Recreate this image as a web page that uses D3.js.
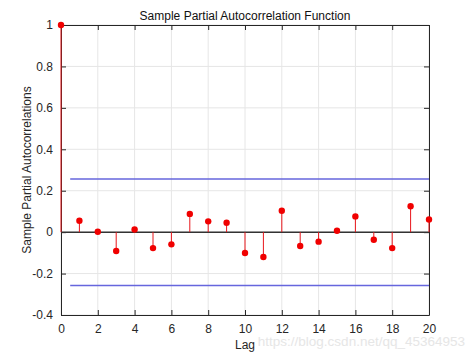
<!DOCTYPE html>
<html><head><meta charset="utf-8">
<script src="https://d3js.org/d3.v7.min.js"></script>
<style>body{margin:0;background:#fff}svg{display:block}</style>
</head><body>
<svg id="c" width="474" height="355"></svg>
<script>
const lags = d3.range(0, 21);
const pacf = [1, 0.055, 0.002, -0.091, 0.013, -0.077, -0.059, 0.088, 0.052, 0.045, -0.101,
  -0.120, 0.103, -0.067, -0.046, 0.007, 0.076, -0.037, -0.077, 0.125, 0.061];
const bound = 0.257;
const xTicks = [0,2,4,6,8,10,12,14,16,18,20];
const yTicks = [-0.4,-0.2,0,0.2,0.4,0.6,0.8,1];
const yTickLabels = ["-0.4","-0.2","0","0.2","0.4","0.6","0.8","1"];

const svg = d3.select("#c");
const L=61, R=429, T=25, B=315;
const x = d3.scaleLinear().domain([0,20]).range([L,R]);
const y = d3.scaleLinear().domain([-0.4,1]).range([B,T]);
const font = "'Liberation Sans', Arial, Helvetica, sans-serif";
const axCol = "#262626";

// grid
svg.append("g").selectAll("line").data(xTicks).join("line")
  .attr("x1",d=>x(d)).attr("x2",d=>x(d)).attr("y1",T).attr("y2",B)
  .attr("stroke","#e6e6e6").attr("stroke-width",1);
svg.append("g").selectAll("line").data(yTicks).join("line")
  .attr("y1",d=>y(d)).attr("y2",d=>y(d)).attr("x1",L).attr("x2",R)
  .attr("stroke","#e6e6e6").attr("stroke-width",1);

// axes with inward ticks
const gx = svg.append("g").attr("transform",`translate(0,${B})`)
  .call(d3.axisBottom(x).tickValues(xTicks).tickSizeInner(-5).tickSizeOuter(0).tickPadding(9));
const gxt = svg.append("g").attr("transform",`translate(0,${T})`)
  .call(d3.axisTop(x).tickValues(xTicks).tickSizeInner(-5).tickSizeOuter(0).tickFormat(""));
const gy = svg.append("g").attr("transform",`translate(${L},0)`)
  .call(d3.axisLeft(y).tickValues(yTicks).tickSizeInner(-5).tickSizeOuter(0).tickPadding(8)
    .tickFormat((d,i)=>yTickLabels[i]));
const gyr = svg.append("g").attr("transform",`translate(${R},0)`)
  .call(d3.axisRight(y).tickValues(yTicks).tickSizeInner(-5).tickSizeOuter(0).tickFormat(""));
[gx,gxt,gy,gyr].forEach(g=>{
  g.selectAll("path,line").attr("stroke",axCol).attr("stroke-width",1);
  g.selectAll("text").attr("fill",axCol).style("font-family",font).style("font-size","12px");
});

// zero line
svg.append("line").attr("x1",L).attr("x2",R).attr("y1",y(0)).attr("y2",y(0))
  .attr("stroke","#333").attr("stroke-width",1.5);

// bounds
svg.append("g").selectAll("line").data([bound,-bound]).join("line")
  .attr("x1",x(0.5)).attr("x2",x(20)).attr("y1",d=>y(d)).attr("y2",d=>y(d))
  .attr("stroke","#6666dd").attr("stroke-width",1.5);

// stems
svg.append("g").selectAll("line").data(lags).join("line")
  .attr("x1",d=>x(d)).attr("x2",d=>x(d)).attr("y1",y(0)).attr("y2",d=>y(pacf[d]))
  .attr("stroke","#e8161b").attr("stroke-width",1);
svg.append("g").selectAll("circle").data(lags).join("circle")
  .attr("cx",d=>x(d)).attr("cy",d=>y(pacf[d])).attr("r",3.2)
  .attr("fill","#f00000");

// title and labels
svg.append("text").attr("x",(L+R)/2).attr("y",20).attr("text-anchor","middle")
  .style("font-family",font).style("font-size","12px").attr("fill","#111")
  .text("Sample Partial Autocorrelation Function");
svg.append("text").attr("x",(L+R)/2).attr("y",349).attr("text-anchor","middle")
  .style("font-family",font).style("font-size","12px").attr("fill",axCol).text("Lag");
svg.append("text").attr("transform",`translate(31,${(T+B)/2}) rotate(-90)`).attr("text-anchor","middle")
  .style("font-family",font).style("font-size","12px").attr("fill",axCol)
  .text("Sample Partial Autocorrelations");
svg.append("text").attr("x",465).attr("y",346).attr("text-anchor","end")
  .style("font-family",font).style("font-size","13.5px").attr("fill","#e6e6e6")
  .text("https://blog.csdn.net/qq_45364953");
</script>
</body></html>
